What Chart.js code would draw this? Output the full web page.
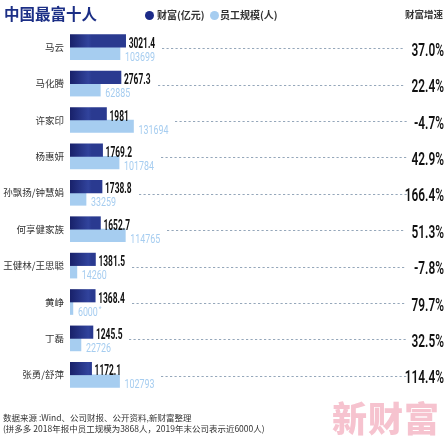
<!DOCTYPE html>
<html>
<head>
<meta charset="utf-8">
<script src="https://cdn.jsdelivr.net/npm/chart.js@4"></script>
<style>
  body { margin: 0; background: #fff; }
  #wrap { position: relative; width: 446px; height: 436px; overflow: hidden; font-family: "Noto Sans CJK SC", sans-serif; }
  #wrap canvas { position: absolute; left: 0; top: 0; }
  .t { position: absolute; white-space: nowrap; line-height: 1; }
  .title { left: 4px; top: 6px; font-size: 15.5px; font-weight: 700; color: #1c2f86; }
  .leg { top: 10px; font-size: 10px; font-weight: 700; color: #333; }
  .dot { position: absolute; top: 11px; width: 9px; height: 9px; border-radius: 50%; }
  .head { right: 3px; top: 10px; font-size: 9.5px; font-weight: 700; color: #333; }
  .foot { left: 3px; font-size: 8.5px; color: #333; }
  .mark { right: 6px; top: 399px; font-size: 35px; font-weight: 900; color: #f6c3cf; letter-spacing: 1px; }
</style>
</head>
<body>
<div id="wrap">
  <canvas id="c" width="446" height="436"></canvas>
  <div class="t title">中国最富十人</div>
  <div class="dot" style="left:145px;background:#1b2a88"></div>
  <div class="t leg" style="left:157px">财富(亿元)</div>
  <div class="dot" style="left:210px;background:#a6cdf0"></div>
  <div class="t leg" style="left:220px">员工规模(人)</div>
  <div class="t head">财富增速</div>
  <div class="t foot" style="top:413px">数据来源 :Wind、公司财报、公开资料,新财富整理</div>
  <div class="t foot" style="top:424px">(拼多多 2018年报中员工规模为3868人，2019年末公司表示近6000人)</div>
  <div class="t mark">新财富</div>
</div>
<script>
const names = ['马云', '马化腾', '许家印', '杨惠妍', '孙飘扬/钟慧娟', '何享健家族', '王健林/王思聪', '黄峥', '丁磊', '张勇/舒萍'];
const wealth = [3021.4, 2767.3, 1981, 1769.2, 1738.8, 1652.7, 1381.5, 1368.4, 1245.5, 1172.1];
const employees = [103699, 62885, 131694, 101784, 33259, 114765, 14260, 6000, 22726, 102793];
const employeeNotes = ['', '', '', '', '', '', '', '*', '', ''];
const growth = [37.0, 22.4, -4.7, 42.9, 166.4, 51.3, -7.8, 79.7, 32.5, 114.4];

function narrowText(ctx, text, x, y, sx) {
  ctx.save();
  ctx.translate(x, y);
  ctx.scale(sx, 1);
  ctx.fillText(text, 0, 0);
  const w = ctx.measureText(text).width * sx;
  ctx.restore();
  return w;
}

// dark bars get a left-to-right gradient each
const barShade = {
  id: 'barShade',
  beforeDatasetsDraw(chart) {
    chart.getDatasetMeta(0).data.forEach(bar => {
      const g = chart.ctx.createLinearGradient(bar.base, 0, bar.x, 0);
      g.addColorStop(0, '#18216a');
      g.addColorStop(0.85, '#31439c');
      g.addColorStop(1, '#2a3a90');
      bar.options.backgroundColor = g;
    });
  }
};

const rowLabels = {
  id: 'rowLabels',
  afterDatasetsDraw(chart) {
    const ctx = chart.ctx;
    const ys = chart.scales.y;
    const dark = chart.getDatasetMeta(0).data;
    const light = chart.getDatasetMeta(1).data;
    names.forEach((n, i) => {
      const yc = ys.getPixelForValue(i);
      ctx.save();
      ctx.textAlign = 'left';
      ctx.textBaseline = 'alphabetic';
      ctx.fillStyle = '#111';
      ctx.font = 'bold 14px Roboto';
      const x1 = dark[i].x + 3;
      const w1 = narrowText(ctx, String(wealth[i]), x1, yc + 0.5, 0.6);
      ctx.fillStyle = '#a6cdf0';
      ctx.font = '12px Roboto';
      const x2 = light[i].x + 5;
      const w2 = narrowText(ctx, String(employees[i]), x2, yc + 13.5, 0.74);
      if (employeeNotes[i]) {
        ctx.font = '8px Roboto';
        narrowText(ctx, employeeNotes[i], x2 + w2 + 1, yc + 9, 0.8);
      }
      // dashed leader line, drawn as short ticks
      const start = Math.round(Math.max(x1 + w1, x2 + w2) + 7);
      const ly = Math.round(yc + 1);
      ctx.fillStyle = '#95a7ba';
      for (let x = start; x < 405; x += 4.5) {
        ctx.fillRect(x, ly, 2.2, 1);
      }
      ctx.fillStyle = '#111';
      ctx.textAlign = 'right';
      ctx.font = '600 18px Roboto';
      narrowText(ctx, growth[i].toFixed(1) + '%', 444, yc + 8.5, 0.66);
      ctx.restore();
    });
  }
};

new Chart(document.getElementById('c'), {
  type: 'bar',
  data: {
    labels: names,
    datasets: [
      { label: '财富(亿元)', data: wealth, xAxisID: 'x', backgroundColor: '#1f2b7a', barThickness: 12.5 },
      { label: '员工规模(人)', data: employees, xAxisID: 'x2', backgroundColor: '#a6cdf0', barThickness: 12.5 }
    ]
  },
  options: {
    indexAxis: 'y',
    responsive: false,
    animation: false,
    layout: { padding: { left: 0, right: 26, top: 29, bottom: 43 } },
    plugins: { legend: { display: false }, tooltip: { enabled: false } },
    scales: {
      x: { display: false, min: 0, max: 19000 },
      x2: { display: false, min: 0, max: 726000 },
      y: {
        afterFit(scale) { scale.width = 70; },
        grid: { display: false, drawTicks: false },
        border: { display: false },
        ticks: { padding: 6, color: '#333', font: { family: 'Noto Sans CJK SC', size: 9.5 } }
      }
    }
  },
  plugins: [barShade, rowLabels]
});
</script>
</body>
</html>
